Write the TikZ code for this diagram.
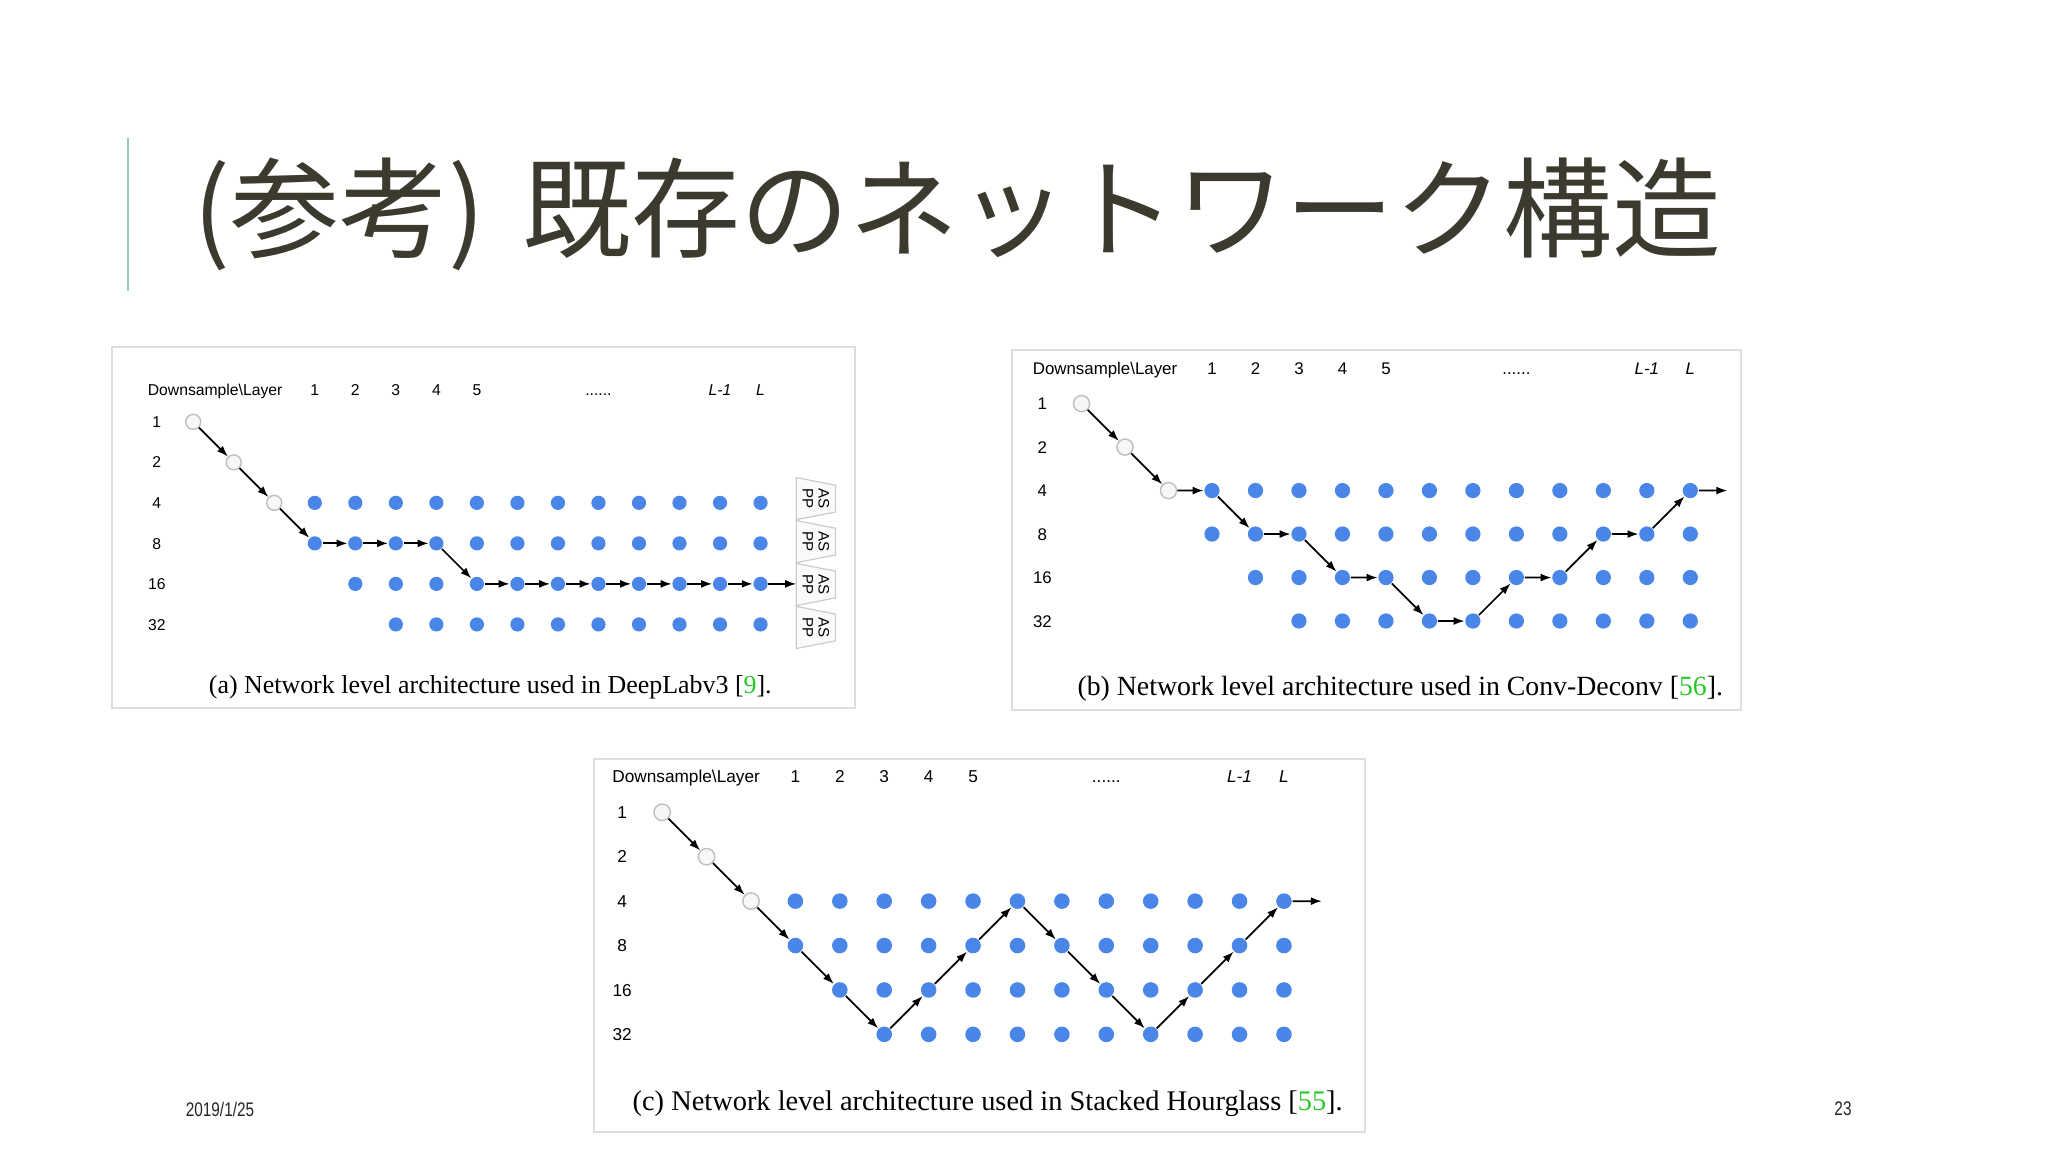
\documentclass[tikz,border=0pt]{standalone}
\usepackage{fontspec}
\usetikzlibrary{arrows.meta}
\newfontfamily\jpfont{Noto Sans CJK JP}
\newfontfamily\hdfont{Liberation Sans}
\newfontfamily\capfont{Liberation Serif}
\newfontfamily\condfont[FakeStretch=0.78]{Liberation Sans}
\definecolor{dotblue}{RGB}{74,134,232}
\definecolor{titlegray}{RGB}{60,58,46}
\definecolor{barteal}{RGB}{150,200,188}
\definecolor{refgreen}{RGB}{40,200,40}
\definecolor{boxgray}{RGB}{222,222,222}
\tikzset{
  hdr/.style={inner sep=0pt, anchor=base, font=\hdfont\fontsize{4.47pt}{5pt}\selectfont},
  hdri/.style={hdr, font=\hdfont\itshape\fontsize{4.47pt}{5pt}\selectfont},
  bdot/.style={circle, fill=dotblue, inner sep=0pt, minimum size=0.142cm},
  wdot/.style={circle, draw=gray!50, fill=gray!6, line width=0.4pt, inner sep=0pt, minimum size=0.15cm},
  conn/.style={draw=black, line width=0.5pt, -{Latex[length=1.1mm,width=0.8mm]}},
  capt/.style={inner sep=0pt, font=\capfont\fontsize{7.37pt}{8pt}\selectfont},
  panelbox/.style={draw=boxgray, line width=0.35pt, fill=white},
  asppbox/.style={draw=gray!40, fill=gray!4, line width=0.35pt},
  aspptxt/.style={inner sep=0pt, rotate=-90, align=center, font=\hdfont\fontsize{4.3pt}{4.6pt}\selectfont},
  foot/.style={inner sep=0pt, text=black!85, font=\condfont\fontsize{5.6pt}{6pt}\selectfont},
}
\newcommand{\netgrid}[1]{%
  \node[hdr] (#1-hd) at (-2.46,-0.66) {Downsample\textbackslash Layer};
  \foreach \c in {1,...,5}{\node[hdr] (#1-h\c) at (\c-1,-0.66) {\c};}
  \node[hdr] (#1-hdots) at (7,-0.66) {......};
  \node[hdri] (#1-hlm) at (10,-0.66) {L-1};
  \node[hdri] (#1-hl) at (11,-0.66) {L};
  \foreach \r/\t in {0/1,1/2,2/4,3/8,4/16,5/32}{\node[hdr] (#1-r\t) at (-3.9,\r+0.14) {\t};}
  \node[wdot] (#1-w1) at (-3,0) {};
  \node[wdot] (#1-w2) at (-2,1) {};
  \node[wdot] (#1-w3) at (-1,2) {};
  \foreach \c in {1,...,12}{\node[bdot] (#1-4-\c) at (\c-1,2) {};\node[bdot] (#1-8-\c) at (\c-1,3) {};}
  \foreach \c in {2,...,12}{\node[bdot] (#1-16-\c) at (\c-1,4) {};}
  \foreach \c in {3,...,12}{\node[bdot] (#1-32-\c) at (\c-1,5) {};}
}
\begin{document}
\begin{tikzpicture}[x=0.01cm,y=-0.01cm]
\useasboundingbox (0,0) rectangle (2048,1152);
\fill[white] (0,0) rectangle (2048,1152);
% title
\draw[barteal, line width=0.6pt] (128,138) -- (128,291);
\node[anchor=base west, inner sep=0pt, text=titlegray, font=\jpfont\fontsize{31pt}{33pt}\selectfont] (title) at (193,250) {(参考)\hspace{0.12em} 既存のネットワーク構造};
% panel boxes
\draw[panelbox] (112,347) rectangle (855,708);
\draw[panelbox] (1012,350) rectangle (1741,710);
\draw[panelbox] (594,759) rectangle (1365,1132);
% panel (a)
\begin{scope}[shift={(314.8,421.8)}, scale=1, transform shape, x=0.405cm, y=-0.405cm]
  \netgrid{a}
  \foreach \r/\k in {1.896/1,2.956/2,4.015/3,5.075/4}{
    \draw[asppbox] (11.88,\r-0.52) -- (12.85,\r-0.33) -- (12.85,\r+0.33) -- (11.88,\r+0.52) -- cycle;
    \node[aspptxt] (a-aspp\k) at (12.365,\r) {AS\\PP};
  }
  \coordinate (a-asppin) at (11.88,4);
  \foreach \p/\q in {w1/w2,w2/w3,w3/8-1,8-1/8-2,8-2/8-3,8-3/8-4,8-4/16-5,16-5/16-6,16-6/16-7,16-7/16-8,16-8/16-9,16-9/16-10,16-10/16-11,16-11/16-12}
    {\draw[conn] (a-\p) -- (a-\q);}
  \draw[conn] (a-16-12) -- (a-asppin);
  \node[capt] (a-cap) at (4.33,6.55) {(a) Network level architecture used in DeepLabv3 [\textcolor{refgreen}{9}].};
\end{scope}
% panel (b)
\begin{scope}[shift={(1212,403.6)}, scale=1.073, transform shape, x=0.405cm, y=-0.405cm]
  \netgrid{b}
  \coordinate (b-out) at (11.85,2);
  \foreach \p/\q in {w1/w2,w2/w3,w3/4-1,4-1/8-2,8-2/8-3,8-3/16-4,16-4/16-5,16-5/32-6,32-6/32-7,32-7/16-8,16-8/16-9,16-9/8-10,8-10/8-11,8-11/4-12,4-12/out}
    {\draw[conn] (b-\p) -- (b-\q);}
  \node[capt] (b-cap) at (4.33,6.55) {(b) Network level architecture used in Conv-Deconv [\textcolor{refgreen}{56}].};
\end{scope}
% panel (c)
\begin{scope}[shift={(795.4,812.3)}, scale=1.096, transform shape, x=0.405cm, y=-0.405cm]
  \netgrid{c}
  \coordinate (c-out) at (11.85,2);
  \foreach \p/\q in {w1/w2,w2/w3,w3/8-1,8-1/16-2,16-2/32-3,32-3/16-4,16-4/8-5,8-5/4-6,4-6/8-7,8-7/16-8,16-8/32-9,32-9/16-10,16-10/8-11,8-11/4-12,4-12/out}
    {\draw[conn] (c-\p) -- (c-\q);}
  \node[capt] (c-cap) at (4.33,6.57) {(c) Network level architecture used in Stacked Hourglass [\textcolor{refgreen}{55}].};
\end{scope}
% footer
\node[foot] (date) at (220,1109) {2019/1/25};
\node[foot] (pnum) at (1843,1109) {23};
\end{tikzpicture}
\end{document}
